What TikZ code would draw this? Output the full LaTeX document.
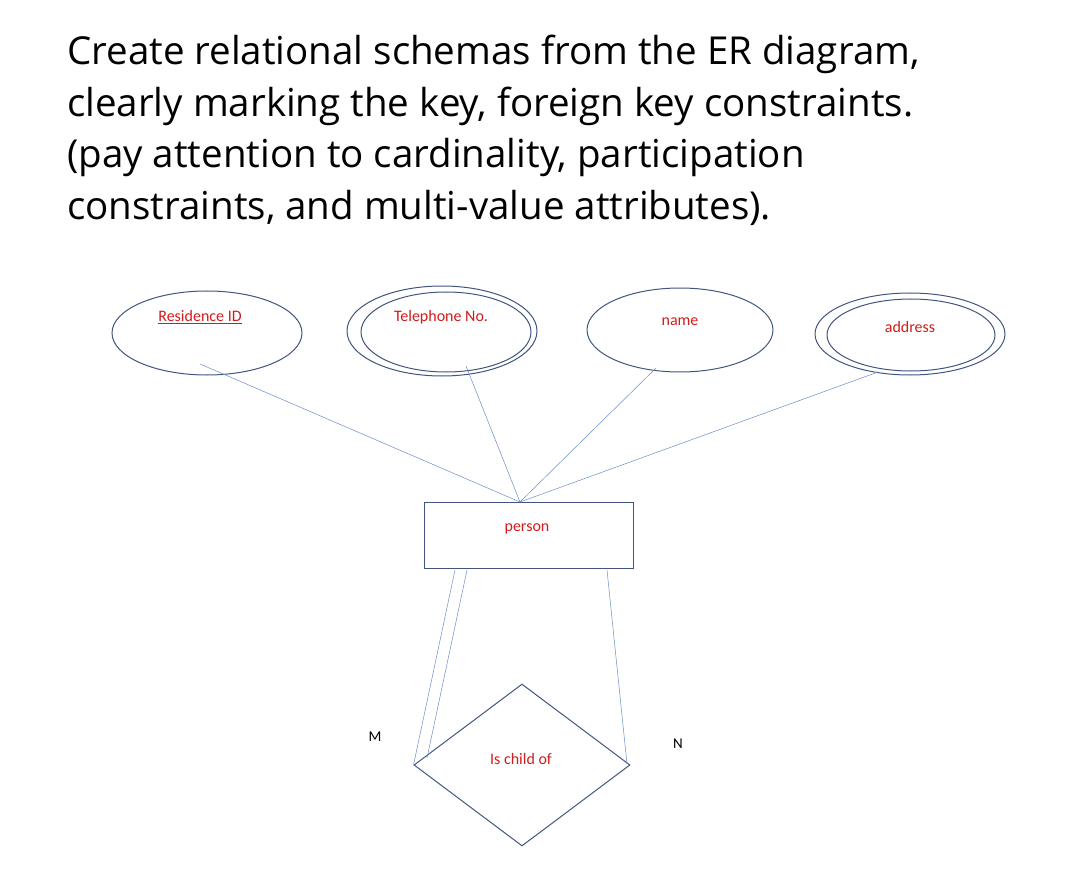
\documentclass[tikz,border=0pt]{standalone}
\usepackage{fontspec}
\setmainfont{Carlito}
\newfontfamily\titlefont{Open Sans}
\usetikzlibrary{shapes.geometric}
\definecolor{edge}{HTML}{41557F}
\definecolor{conn}{HTML}{6A8CC8}
\definecolor{lbl}{HTML}{D01C1C}
\begin{document}
\begin{tikzpicture}[x=1pt,y=-1pt,
  ttl/.style={anchor=base west,inner sep=0,font=\titlefont\fontsize{38.5}{38.5}\selectfont},
  lab/.style={text=lbl,font=\fontsize{16}{16}\selectfont},
  card/.style={font=\fontsize{15}{15}\selectfont},
  ent/.style={draw=edge,line width=1pt},
  cn/.style={draw=conn,line width=0.5pt}]
\useasboundingbox (0,0) rectangle (1070,882);
\node[ttl] (t1) at (67,65) {Create relational schemas from the ER diagram,};
\node[ttl] (t2) at (67,117) {clearly marking the key, foreign key constraints.};
\node[ttl] (t3) at (67,168) {(pay attention to cardinality, participation};
\node[ttl] (t4) at (67,220) {constraints, and multi-value attributes).};
% attributes
\draw[ent] (207,333) ellipse [x radius=95,y radius=42];
\node[lab] (rid) at (200,317) {\underline{Residence ID}};
\draw[ent] (442,331) ellipse [x radius=95,y radius=45];
\draw[ent] (446,332) ellipse [x radius=85,y radius=40];
\node[lab] (tel) at (441,317) {Telephone No.};
\draw[ent] (680,330) ellipse [x radius=93,y radius=42];
\node[lab] (nm) at (680,322) {name};
\draw[ent] (910,334) ellipse [x radius=95,y radius=41];
\draw[ent] (911,335) ellipse [x radius=84,y radius=36];
\node[lab] (ad) at (910,327) {address};
% entity
\node[draw=edge,line width=1pt,minimum width=209pt,minimum height=66pt,inner sep=0] (person) at (528.5,535) {};
\node[lab] (pl) at (527,529) {person};
\coordinate (ptop) at (520,502);
\coordinate (ra) at (200,364);
\coordinate (ta) at (466,366);
\coordinate (na) at (656,368);
\coordinate (aa) at (878,372);
\draw[cn] (ra) -- (ptop);
\draw[cn] (ta) -- (ptop);
\draw[cn] (na) -- (ptop);
\draw[cn] (aa) -- (ptop);
% relationship
\node[diamond,draw=edge,line width=1pt,minimum width=216pt,minimum height=162pt,inner sep=0,aspect=1.33] (rel) at (522,765) {};
\node[lab] (rl) at (521,759) {Is child of};
\coordinate (p1) at (455,570); \coordinate (p2) at (467,570); \coordinate (p3) at (607,570);
\coordinate (d1) at (427,758); \coordinate (d3) at (627,764);
\draw[cn] (p1) -- (rel.west);
\draw[cn] (p2) -- (d1);
\draw[cn] (p3) -- (d3);
\node[card] (m) at (375,737) {M};
\node[card] (n) at (678,744) {N};
\end{tikzpicture}
\end{document}
